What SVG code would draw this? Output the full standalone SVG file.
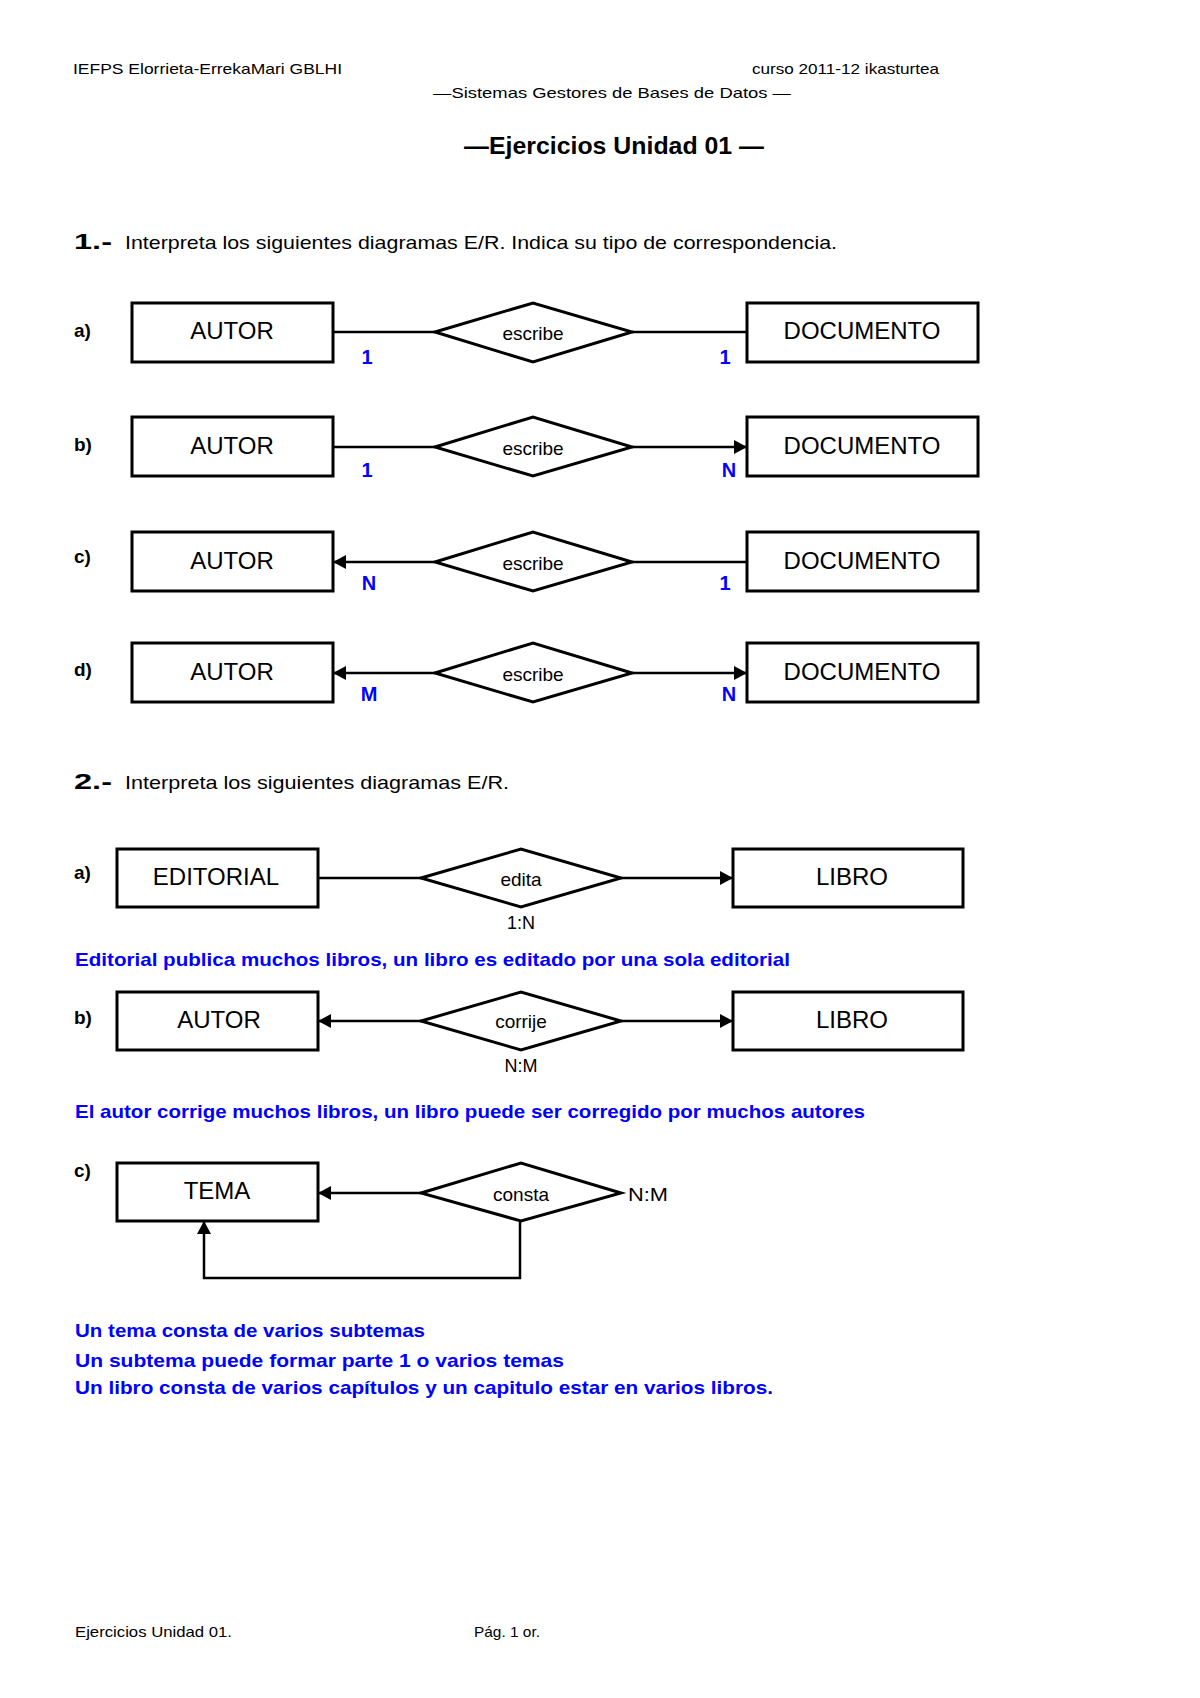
<svg xmlns="http://www.w3.org/2000/svg" width="1200" height="1698" viewBox="0 0 1200 1698">
<style>
text{font-family:"Liberation Sans","DejaVu Sans",sans-serif;fill:#000}
.hdr{font-size:15px}
.ttl{font-size:24px;font-weight:bold}
.num{font-size:22px;font-weight:bold}
.q{font-size:19px}
.lbl{font-size:19px;font-weight:bold}
.ent{font-size:24px;text-anchor:middle}
.rel{font-size:19px;text-anchor:middle}
.card{font-size:20px;font-weight:bold;fill:#0000ff;text-anchor:middle}
.ans{font-size:19px;font-weight:bold;fill:#0000ff}
.ratio{font-size:18px}
.box{fill:#fff;stroke:#000;stroke-width:3}
.dia{fill:#fff;stroke:#000;stroke-width:3;stroke-linejoin:miter}
.ln{fill:none;stroke:#000;stroke-width:2.5}
</style>
<defs>
<marker id="arr" markerUnits="userSpaceOnUse" markerWidth="16" markerHeight="16" refX="13" refY="7" orient="auto">
<path d="M0,0 L13,7 L0,14 z" fill="#000"/>
</marker>
</defs>

<g id="header">
<text class="hdr" x="73" y="74" textLength="269" lengthAdjust="spacingAndGlyphs">IEFPS Elorrieta-ErrekaMari GBLHI</text>
<text class="hdr" x="752" y="74" textLength="187" lengthAdjust="spacingAndGlyphs">curso 2011-12 ikasturtea</text>
<text class="hdr" x="433" y="98" textLength="358" lengthAdjust="spacingAndGlyphs">—Sistemas Gestores de Bases de Datos —</text>
<text class="ttl" x="464" y="154" textLength="300" lengthAdjust="spacingAndGlyphs">—Ejercicios Unidad 01 —</text>
<text class="num" x="74" y="249" textLength="38" lengthAdjust="spacingAndGlyphs">1.-</text>
<text class="q" x="125" y="249" textLength="712" lengthAdjust="spacingAndGlyphs">Interpreta los siguientes diagramas E/R. Indica su tipo de correspondencia.</text>
</g>

<g id="labels1">
<text class="lbl" x="74" y="337">a)</text>
<text class="lbl" x="74" y="451">b)</text>
<text class="lbl" x="74" y="563">c)</text>
<text class="lbl" x="74" y="676">d)</text>
</g>

<g id="connectors">
<line class="ln" x1="333" y1="332" x2="435" y2="332"/>
<line class="ln" x1="632" y1="332" x2="747" y2="332"/>
<line class="ln" x1="333" y1="447" x2="435" y2="447"/>
<line class="ln" x1="632" y1="447" x2="747" y2="447" marker-end="url(#arr)"/>
<line class="ln" x1="435" y1="562" x2="333" y2="562" marker-end="url(#arr)"/>
<line class="ln" x1="632" y1="562" x2="747" y2="562"/>
<line class="ln" x1="435" y1="673" x2="333" y2="673" marker-end="url(#arr)"/>
<line class="ln" x1="632" y1="673" x2="747" y2="673" marker-end="url(#arr)"/>
<line class="ln" x1="318" y1="878" x2="421" y2="878"/>
<line class="ln" x1="621" y1="878" x2="733" y2="878" marker-end="url(#arr)"/>
<line class="ln" x1="421" y1="1021" x2="318" y2="1021" marker-end="url(#arr)"/>
<line class="ln" x1="621" y1="1021" x2="733" y2="1021" marker-end="url(#arr)"/>
<line class="ln" x1="421" y1="1193" x2="318" y2="1193" marker-end="url(#arr)"/>
<polyline class="ln" points="520,1221 520,1278 204,1278 204,1221" marker-end="url(#arr)"/>
</g>

<g id="cardinalities">
<text class="card" x="367" y="364">1</text>
<text class="card" x="725" y="364">1</text>
<text class="card" x="367" y="477">1</text>
<text class="card" x="729" y="477">N</text>
<text class="card" x="369" y="590">N</text>
<text class="card" x="725" y="590">1</text>
<text class="card" x="369" y="701">M</text>
<text class="card" x="729" y="701">N</text>
</g>

<g id="autor-a"><rect class="box" x="132" y="303" width="201" height="59"/><text class="ent" x="232" y="339">AUTOR</text></g>
<g id="escribe-a"><polygon class="dia" points="435,332 533,303 632,332 533,362"/><text class="rel" x="533" y="340">escribe</text></g>
<g id="documento-a"><rect class="box" x="747" y="303" width="231" height="59"/><text class="ent" x="862" y="339">DOCUMENTO</text></g>

<g id="autor-b"><rect class="box" x="132" y="417" width="201" height="59"/><text class="ent" x="232" y="454">AUTOR</text></g>
<g id="escribe-b"><polygon class="dia" points="435,447 533,417 632,447 533,476"/><text class="rel" x="533" y="455">escribe</text></g>
<g id="documento-b"><rect class="box" x="747" y="417" width="231" height="59"/><text class="ent" x="862" y="454">DOCUMENTO</text></g>

<g id="autor-c"><rect class="box" x="132" y="532" width="201" height="59"/><text class="ent" x="232" y="569">AUTOR</text></g>
<g id="escribe-c"><polygon class="dia" points="435,562 533,532 632,562 533,591"/><text class="rel" x="533" y="570">escribe</text></g>
<g id="documento-c"><rect class="box" x="747" y="532" width="231" height="59"/><text class="ent" x="862" y="569">DOCUMENTO</text></g>

<g id="autor-d"><rect class="box" x="132" y="643" width="201" height="59"/><text class="ent" x="232" y="680">AUTOR</text></g>
<g id="escribe-d"><polygon class="dia" points="435,673 533,643 632,673 533,702"/><text class="rel" x="533" y="681">escribe</text></g>
<g id="documento-d"><rect class="box" x="747" y="643" width="231" height="59"/><text class="ent" x="862" y="680">DOCUMENTO</text></g>

<g id="section2">
<text class="num" x="74" y="789" textLength="38" lengthAdjust="spacingAndGlyphs">2.-</text>
<text class="q" x="125" y="789" textLength="384" lengthAdjust="spacingAndGlyphs">Interpreta los siguientes diagramas E/R.</text>
<text class="lbl" x="74" y="879">a)</text>
<text class="lbl" x="74" y="1024">b)</text>
<text class="lbl" x="74" y="1177">c)</text>
</g>

<g id="editorial"><rect class="box" x="117" y="849" width="201" height="58"/><text class="ent" x="216" y="885">EDITORIAL</text></g>
<g id="edita"><polygon class="dia" points="421,878 521,849 621,878 521,907"/><text class="rel" x="521" y="886">edita</text></g>
<g id="libro-a"><rect class="box" x="733" y="849" width="230" height="58"/><text class="ent" x="852" y="885">LIBRO</text></g>
<text class="ratio" x="521" y="929" text-anchor="middle">1:N</text>
<text class="ans" x="75" y="966" textLength="715" lengthAdjust="spacingAndGlyphs">Editorial publica muchos libros, un libro es editado por una sola editorial</text>

<g id="autor-2b"><rect class="box" x="117" y="992" width="201" height="58"/><text class="ent" x="219" y="1028">AUTOR</text></g>
<g id="corrije"><polygon class="dia" points="421,1021 521,992 621,1021 521,1050"/><text class="rel" x="521" y="1028">corrije</text></g>
<g id="libro-b"><rect class="box" x="733" y="992" width="230" height="58"/><text class="ent" x="852" y="1028">LIBRO</text></g>
<text class="ratio" x="521" y="1072" text-anchor="middle">N:M</text>
<text class="ans" x="75" y="1118" textLength="790" lengthAdjust="spacingAndGlyphs">El autor corrige muchos libros, un libro puede ser corregido por muchos autores</text>

<g id="tema"><rect class="box" x="117" y="1163" width="201" height="58"/><text class="ent" x="217" y="1199">TEMA</text></g>
<g id="consta"><polygon class="dia" points="421,1193 521,1163 621,1193 521,1221"/><text class="rel" x="521" y="1201">consta</text></g>
<text class="ratio" x="628" y="1201" textLength="40" lengthAdjust="spacingAndGlyphs">N:M</text>

<g id="answers2c">
<text class="ans" x="75" y="1337" textLength="350" lengthAdjust="spacingAndGlyphs">Un tema consta de varios subtemas</text>
<text class="ans" x="75" y="1367" textLength="489" lengthAdjust="spacingAndGlyphs">Un subtema puede formar parte 1 o varios temas</text>
<text class="ans" x="75" y="1394" textLength="698" lengthAdjust="spacingAndGlyphs">Un libro consta de varios capítulos y un capitulo estar en varios libros.</text>
</g>

<g id="footer">
<text class="hdr" x="75" y="1637" textLength="157" lengthAdjust="spacingAndGlyphs">Ejercicios Unidad 01.</text>
<text class="hdr" x="474" y="1637" textLength="66" lengthAdjust="spacingAndGlyphs">Pág. 1 or.</text>
</g>
</svg>
